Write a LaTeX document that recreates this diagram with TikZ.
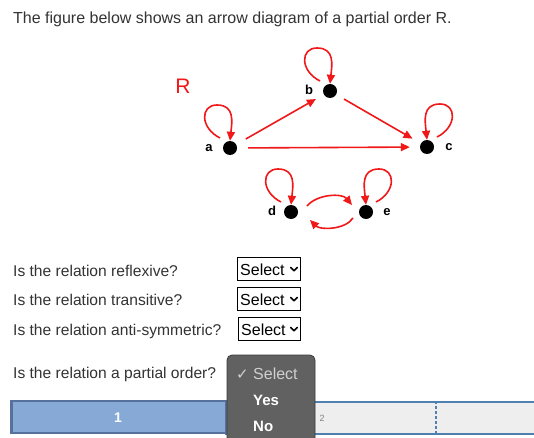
\documentclass[tikz,border=0pt]{standalone}
\usepackage{fontspec}
\setmainfont{Liberation Sans}
\newfontfamily\dejavu{DejaVu Sans}
\usetikzlibrary{arrows.meta}
\definecolor{rred}{HTML}{F01818}
\definecolor{txt}{HTML}{333333}
\definecolor{popbg}{HTML}{616161}
\definecolor{popedge}{HTML}{3A3A3A}
\definecolor{seg1}{HTML}{87A9D6}
\definecolor{seg1edge}{HTML}{56719B}
\definecolor{seg2}{HTML}{EEEEEE}
\definecolor{barline}{HTML}{4F80B0}
\begin{document}
\begin{tikzpicture}[x=1pt,y=1pt,
  dot/.style={circle,fill=black,minimum size=14pt,inner sep=0pt},
  lbl/.style={font=\fontsize{13}{13}\selectfont\bfseries,inner sep=0pt},
  edge/.style={draw=rred,line width=1.6pt,-{Triangle[length=9pt,width=8pt]}},
  qtext/.style={anchor=base west,inner sep=0pt,text=txt,font=\fontsize{15.6}{15.6}\selectfont},
  selbox/.style={draw=black,line width=0.8pt,minimum height=23pt,inner sep=0pt,anchor=south west},
  chev/.style={line width=1.6pt,line cap=round,line join=round}
]
\useasboundingbox (0,0) rectangle (534,437);
\fill[white] (0,0) rectangle (534,437);

% title
\node[qtext,font=\fontsize{16}{16}\selectfont] (title) at (13,413.5) {The figure below shows an arrow diagram of a partial order R.};
\node[text=rred,font=\fontsize{21}{21}\selectfont,inner sep=0pt] (R) at (183,351) {R};

% nodes
\node[dot] (a) at (230,289) {};
\node[dot] (b) at (330,346) {};
\node[dot] (c) at (427,290) {};
\node[dot] (d) at (291,225) {};
\node[dot] (e) at (366,225) {};
\node[lbl] (la) at (209,289) {a};
\node[lbl] (lb) at (309,347) {b};
\node[lbl] (lc) at (449,290) {c};
\node[lbl] (ld) at (272,226) {d};
\node[lbl] (le) at (387,225) {e};

% loops
\foreach \n in {a,b,d}{
  \draw[edge] ([shift={(-10,10)}]\n.center) .. controls ([shift={(-30,20)}]\n.center) and ([shift={(-30,43)}]\n.center) .. ([shift={(-13,43)}]\n.center)
     .. controls ([shift={(5,43)}]\n.center) and ([shift={(2,26)}]\n.center) .. (\n.north);
}
\foreach \n in {c,e}{
  \draw[edge] ([shift={(10,10)}]\n.center) .. controls ([shift={(30,20)}]\n.center) and ([shift={(30,43)}]\n.center) .. ([shift={(13,43)}]\n.center)
     .. controls ([shift={(-5,43)}]\n.center) and ([shift={(-2,26)}]\n.center) .. (\n.north);
}
% edges
\draw[edge,shorten <=11pt,shorten >=9pt] (a) -- (b);
\draw[edge,shorten <=11pt,shorten >=10pt] (a) -- (c);
\draw[edge,shorten <=9pt,shorten >=9.5pt] (b) -- (c);
\draw[edge] ([shift={(16,6)}]d.center) .. controls +(10,12) and +(-10,12) .. ([shift={(-14,7)}]e.center);
\draw[edge] ([shift={(-13,-6)}]e.center) .. controls +(-8,-12) and +(10,-10) .. ([shift={(19,-8)}]d.center);

% questions
\node[qtext] (q1) at (13,161) {Is the relation reflexive?};
\node[qtext] (q2) at (13,132) {Is the relation transitive?};
\node[qtext] (q3) at (13,102) {Is the relation anti-symmetric?};
\node[qtext] (q4) at (13,59) {Is the relation a partial order?};

\foreach \y/\x/\nm in {156/237/s1,126/237/s2,96/238/s3}{
  \node[selbox,minimum width={300-\x}] (\nm) at (\x,\y) {};
  \node[anchor=west,inner sep=0pt,font=\fontsize{16}{16}\selectfont] at ([xshift=3pt,yshift=-0.5pt]\nm.west) {Select};
  \draw[chev] ([xshift=-10pt,yshift=1.6pt]\nm.east) -- ([xshift=-6.8pt,yshift=-1.6pt]\nm.east) -- ([xshift=-3.6pt,yshift=1.6pt]\nm.east);
}

% progress bar
\fill[seg2] (225,3) rectangle (534,35);
\draw[barline,line width=1.4pt] (225,35) -- (534,35);
\draw[barline,line width=1.4pt] (225,3) -- (534,3);
\draw[barline,line width=1.2pt,dash pattern=on 3pt off 2pt] (436,3) -- (436,35);
\node[seg1edge,draw,line width=2.5pt,fill=seg1,anchor=south west,minimum width=215pt,minimum height=32pt,inner sep=0pt] (seg) at (10,3) {};
\node[text=white,font=\fontsize{14}{14}\selectfont\bfseries,inner sep=0pt] (n1) at (118,19) {1};
\node[text=gray,font=\fontsize{9}{9}\selectfont,inner sep=0pt] (n2) at (322,19) {2};

% popup
\filldraw[fill=popbg,draw=popedge,line width=0.8pt,rounded corners=5pt] (227,-2) -- (227,82) -- (315,82) -- (315,-2);
\node[anchor=base west,inner sep=0pt,text=white!70!popbg,font=\dejavu\fontsize{15}{15}\selectfont] (chk) at (236,58) {✓};
\node[anchor=base west,inner sep=0pt,text=white!70!popbg,font=\fontsize{16}{16}\selectfont] (psel) at (253,58) {Select};
\node[anchor=base west,inner sep=0pt,text=white,font=\fontsize{15}{15}\selectfont\bfseries] (yes) at (253,32) {Yes};
\node[anchor=base west,inner sep=0pt,text=white,font=\fontsize{15}{15}\selectfont\bfseries] (no) at (253,6) {No};
\end{tikzpicture}
\end{document}
